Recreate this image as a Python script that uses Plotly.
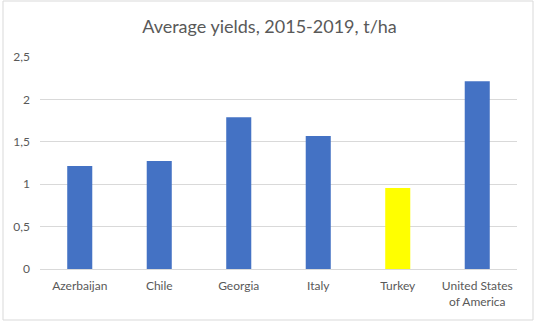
import plotly.graph_objects as go

countries = ["Azerbaijan", "Chile", "Georgia", "Italy", "Turkey", "United States<br>of America"]
yields = [1.215, 1.274, 1.79, 1.568, 0.956, 2.215]
colors = ["#4472C4", "#4472C4", "#4472C4", "#4472C4", "#FFFF00", "#4472C4"]
y_ticks = [0, 0.5, 1, 1.5, 2, 2.5]

W, H = 539, 323
ml, mr, mt, mb = 40, 22, 57, 54
pw, ph = W - ml - mr, H - mt - mb

fig = go.Figure(go.Bar(x=countries, y=yields, marker=dict(color=colors, line=dict(width=0)),
                       width=0.315))

font_family = "Lato, Calibri, sans-serif"
fig.update_layout(
    width=W, height=H,
    margin=dict(l=ml, r=mr, t=mt, b=mb),
    paper_bgcolor="white", plot_bgcolor="white",
    separators=",.",
    showlegend=False,
    title=dict(text="Average yields, 2015-2019, t/ha", x=0.5, xanchor="center",
               y=1 - 27 / H, yanchor="middle", yref="container",
               font=dict(family=font_family, size=18, color="#595959")),
    xaxis=dict(showgrid=False, showline=True, linecolor="#D9D9D9", linewidth=1,
               ticks="", tickfont=dict(family=font_family, size=12, color="#595959"),
               ticklabelstandoff=6, fixedrange=True),
    yaxis=dict(range=[0, 2.5], tickvals=y_ticks, showgrid=True, gridcolor="#D9D9D9",
               gridwidth=1, zeroline=False, showline=False, ticks="",
               tickfont=dict(family=font_family, size=12, color="#595959"),
               ticklabelstandoff=9, fixedrange=True),
    shapes=[dict(type="rect", xref="paper", yref="paper",
                 x0=(3 - ml) / pw, x1=(533 - ml) / pw,
                 y0=(H - mb - 320) / ph, y1=(H - mb - 1) / ph,
                 line=dict(color="#D9D9D9", width=1), fillcolor="rgba(0,0,0,0)", layer="below")],
)

fig.write_html("out.html")
